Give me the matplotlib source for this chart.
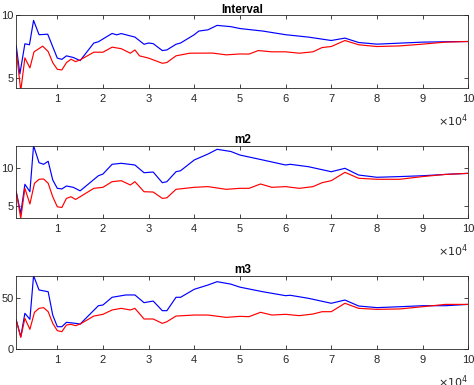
import matplotlib
matplotlib.use("Agg")
import matplotlib.pyplot as plt

# ---- data (x in units of 1e4) ----
x_int_b = [0.1, 0.18, 0.29, 0.39, 0.48, 0.6, 0.79, 1.0, 1.1, 1.2, 1.35, 1.5, 1.8, 1.9, 2.2, 2.3, 2.4, 2.7, 2.9, 3.0, 3.1, 3.3, 3.4, 3.6, 3.7, 4.0, 4.1, 4.3, 4.5, 4.8, 5.0, 5.5, 6.0, 6.5, 7.0, 7.3, 7.6, 8.0, 8.5, 9.0, 9.5, 10.0]
y_int_b = [7.6, 5.34, 7.74, 7.66, 9.6, 8.46, 8.5, 6.6, 6.5, 6.78, 6.65, 6.4, 7.8, 7.9, 8.56, 8.45, 8.55, 8.27, 7.7, 7.8, 7.75, 7.2, 7.25, 7.7, 7.8, 8.46, 8.75, 8.85, 9.2, 9.1, 8.95, 8.75, 8.46, 8.27, 8.0, 8.19, 7.84, 7.71, 7.79, 7.87, 7.9, 7.92]
x_int_r = [0.1, 0.2, 0.29, 0.4, 0.49, 0.68, 0.8, 0.9, 1.0, 1.1, 1.2, 1.3, 1.4, 1.5, 1.8, 2.0, 2.2, 2.4, 2.6, 2.7, 2.8, 3.0, 3.3, 3.4, 3.6, 3.9, 4.4, 4.7, 5.0, 5.2, 5.4, 5.7, 6.0, 6.3, 6.6, 6.8, 7.0, 7.3, 7.6, 8.0, 8.5, 9.0, 9.5, 10.0]
y_int_r = [7.23, 4.0, 6.62, 5.82, 7.1, 7.55, 7.12, 6.24, 5.71, 5.66, 6.24, 6.51, 6.32, 6.46, 7.07, 7.07, 7.47, 7.35, 6.99, 7.25, 6.78, 6.6, 6.19, 6.25, 6.78, 6.99, 7.0, 6.86, 6.93, 6.92, 7.2, 7.1, 7.1, 6.99, 7.1, 7.44, 7.52, 8.0, 7.66, 7.52, 7.57, 7.71, 7.87, 7.92]

x_m2_b = [0.1, 0.2, 0.29, 0.4, 0.48, 0.6, 0.7, 0.8, 0.9, 1.0, 1.1, 1.2, 1.35, 1.5, 1.9, 2.0, 2.2, 2.4, 2.7, 2.9, 3.1, 3.3, 3.4, 3.6, 3.7, 4.0, 4.3, 4.5, 4.8, 5.0, 5.5, 6.0, 6.1, 6.5, 7.0, 7.3, 7.6, 8.0, 8.5, 9.0, 9.5, 10.0]
y_m2_b = [6.89, 4.09, 7.85, 6.89, 12.85, 10.65, 10.44, 10.83, 8.41, 7.33, 7.25, 7.63, 7.46, 7.0, 8.96, 9.18, 10.44, 10.57, 10.35, 9.35, 9.44, 8.06, 8.19, 9.48, 9.61, 11.0, 11.77, 12.38, 12.1, 11.64, 11.0, 10.35, 10.44, 10.13, 9.48, 9.92, 9.05, 8.76, 8.85, 8.96, 9.13, 9.27]
x_m2_r = [0.1, 0.2, 0.29, 0.4, 0.5, 0.6, 0.7, 0.8, 0.9, 1.0, 1.1, 1.2, 1.3, 1.4, 1.5, 1.8, 2.0, 2.2, 2.4, 2.6, 2.7, 2.9, 3.1, 3.3, 3.4, 3.6, 4.0, 4.3, 4.7, 5.0, 5.2, 5.45, 5.7, 6.0, 6.3, 6.6, 6.8, 7.0, 7.3, 7.6, 8.0, 8.5, 9.0, 9.5, 10.0]
y_m2_r = [6.89, 3.45, 7.33, 5.3, 7.98, 8.5, 8.54, 7.98, 6.24, 4.94, 4.85, 6.03, 6.24, 5.89, 6.24, 7.33, 7.46, 8.19, 8.32, 7.76, 8.19, 6.89, 6.85, 6.03, 6.1, 7.2, 7.46, 7.55, 7.2, 7.33, 7.33, 7.89, 7.46, 7.55, 7.33, 7.55, 8.06, 8.32, 9.4, 8.63, 8.5, 8.5, 8.85, 9.13, 9.27]

x_m3_b = [0.1, 0.2, 0.29, 0.4, 0.48, 0.6, 0.8, 0.9, 1.0, 1.1, 1.2, 1.4, 1.5, 1.9, 2.0, 2.2, 2.5, 2.7, 2.9, 3.1, 3.3, 3.4, 3.6, 3.7, 4.0, 4.3, 4.5, 4.8, 5.0, 5.5, 6.0, 6.1, 6.5, 7.0, 7.3, 7.6, 8.0, 8.5, 9.0, 9.5, 10.0]
y_m3_b = [28.6, 12.1, 35.2, 29.3, 72.3, 58.2, 56.5, 33.5, 22.0, 22.0, 26.3, 25.3, 24.6, 42.7, 43.4, 51.0, 53.3, 53.3, 45.7, 47.3, 37.8, 37.8, 51.0, 51.0, 58.9, 63.1, 66.4, 64.0, 61.0, 56.5, 52.6, 53.0, 50.0, 45.1, 48.3, 42.4, 40.8, 41.7, 42.7, 42.7, 44.0]
x_m3_r = [0.1, 0.2, 0.29, 0.4, 0.5, 0.6, 0.7, 0.8, 0.9, 1.0, 1.1, 1.2, 1.3, 1.4, 1.5, 1.8, 2.0, 2.2, 2.4, 2.6, 2.7, 2.9, 3.1, 3.3, 3.4, 3.6, 4.0, 4.3, 4.7, 5.0, 5.2, 5.45, 5.7, 6.0, 6.3, 6.6, 6.8, 7.0, 7.3, 7.6, 8.0, 8.5, 9.0, 9.5, 10.0]
y_m3_r = [28.6, 11.5, 30.2, 19.4, 36.2, 40.1, 40.8, 36.8, 25.3, 18.1, 17.1, 23.7, 24.3, 23.0, 24.6, 32.5, 34.2, 38.5, 40.1, 38.5, 40.1, 29.6, 29.6, 25.3, 26.9, 32.5, 33.5, 33.5, 31.2, 32.2, 31.9, 36.2, 33.5, 34.2, 32.9, 34.5, 36.8, 36.8, 45.1, 40.1, 39.1, 39.5, 41.7, 44.0, 44.0]

titles = ["Interval", "m2", "m3"]
ylims = [(4.2, 10.0), (3.45, 12.85), (0, 72.3)]
yticks = [[5, 10], [5, 10], [0, 50]]
xtick_vals = [1, 2, 3, 4, 5, 6, 7, 8, 9, 10]
scale = 1e4

series = [
    (x_int_b, y_int_b, x_int_r, y_int_r),
    (x_m2_b, y_m2_b, x_m2_r, y_m2_r),
    (x_m3_b, y_m3_b, x_m3_r, y_m3_r),
]

plt.rcParams['font.family'] = ['Liberation Sans', 'DejaVu Sans']
fig = plt.figure(figsize=(4.74, 3.85), dpi=100)
positions = [
    [0.0342, 0.7706, 0.9536, 0.1896],
    [0.0342, 0.4330, 0.9536, 0.1886],
    [0.0342, 0.0935, 0.9536, 0.1904],
]
edge = '#262626'
for pos, (xb, yb, xr, yr), t, yl, yt in zip(positions, series, titles, ylims, yticks):
    ax = fig.add_axes(pos)
    ax.plot([v * scale for v in xb], yb, color='#0000ff', lw=0.85)
    ax.plot([v * scale for v in xr], yr, color='#ff0000', lw=0.85)
    ax.set_xlim(1000, 100000)
    ax.set_ylim(*yl)
    ax.set_xticks([v * scale for v in xtick_vals])
    ax.set_xticklabels([str(v) for v in xtick_vals])
    ax.set_yticks(yt)
    ax.tick_params(direction='in', top=True, right=True, length=3, width=0.6,
                   labelsize=8, colors=edge)
    ax.tick_params(axis='x', pad=4)
    ax.tick_params(axis='y', pad=2)
    for s in ax.spines.values():
        s.set_linewidth(0.6)
        s.set_color(edge)
    ax.set_title(t, fontsize=8.5, fontweight='bold', pad=2)
    ax.text(1.0, -0.33, r'$\times10^{4}$', transform=ax.transAxes, ha='right',
            va='top', fontsize=8, color=edge)

fig.savefig('out.png', dpi=100)
